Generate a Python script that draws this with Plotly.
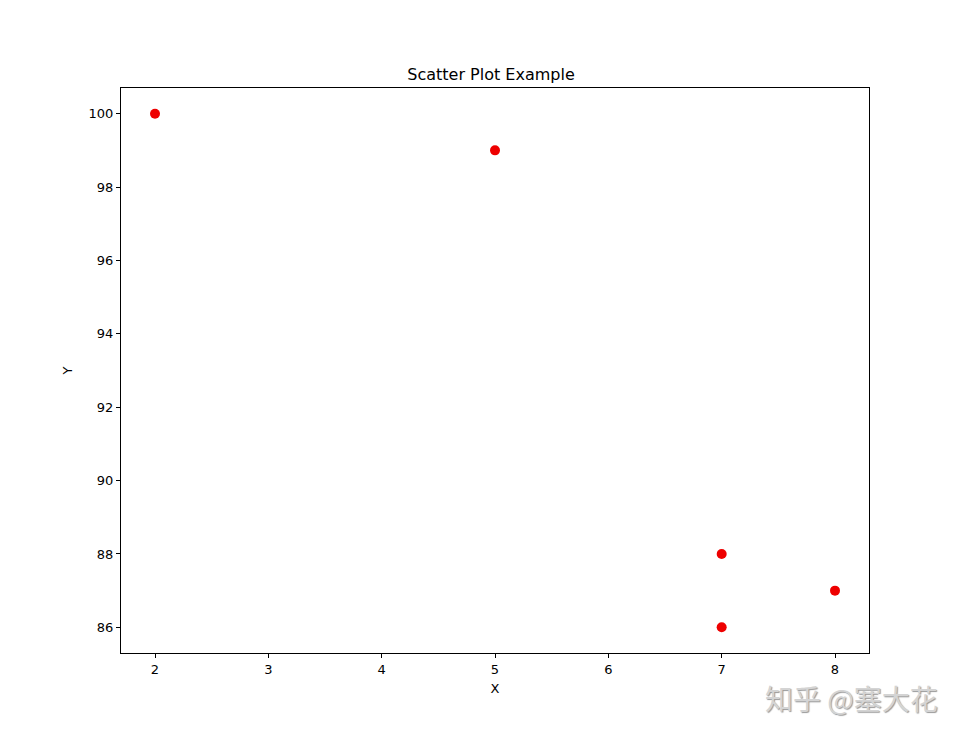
import plotly.graph_objects as go

# data points
x_vals = [2, 5, 7, 7, 8]
y_vals = [100, 99, 88, 86, 87]
x_ticks = [2, 3, 4, 5, 6, 7, 8]
y_ticks = [86, 88, 90, 92, 94, 96, 98, 100]

fig = go.Figure(go.Scatter(
    x=x_vals, y=y_vals, mode='markers',
    marker=dict(color='#ee0000', size=10, line=dict(width=0))
))

axis_style = dict(
    showgrid=False, zeroline=False, showline=True, linecolor='black', linewidth=1.2,
    mirror=True, ticks='outside', ticklen=4, tickwidth=1, tickcolor='black',
    tickfont=dict(size=13, color='black', family='DejaVu Sans'),
)

fig.update_layout(
    width=966, height=734,
    margin=dict(l=113, r=105, t=80, b=89),
    plot_bgcolor='white', paper_bgcolor='white',
    showlegend=False,
    font=dict(family='DejaVu Sans', color='black'),
    title=dict(text='Scatter Plot Example', x=0.5, xanchor='center', y=1 - 66 / 734,
               yanchor='middle', font=dict(size=16, color='black')),
    xaxis=dict(range=[1.7, 8.3], tickvals=x_ticks,
               title=dict(text='X', font=dict(size=13), standoff=8), **axis_style),
    yaxis=dict(range=[85.3, 100.7], tickvals=y_ticks,
               title=dict(text='Y', font=dict(size=13), standoff=12), **axis_style),
)

# watermark
fig.add_annotation(text='知乎 @塞大花', xref='paper', yref='paper', x=1.095, y=-0.079,
                   xanchor='right', yanchor='middle', showarrow=False,
                   font=dict(family='Noto Sans CJK SC', size=28, color='#d4d4d4',
                             shadow='1px 1px 1px #999'))

fig.write_html("out.html")
